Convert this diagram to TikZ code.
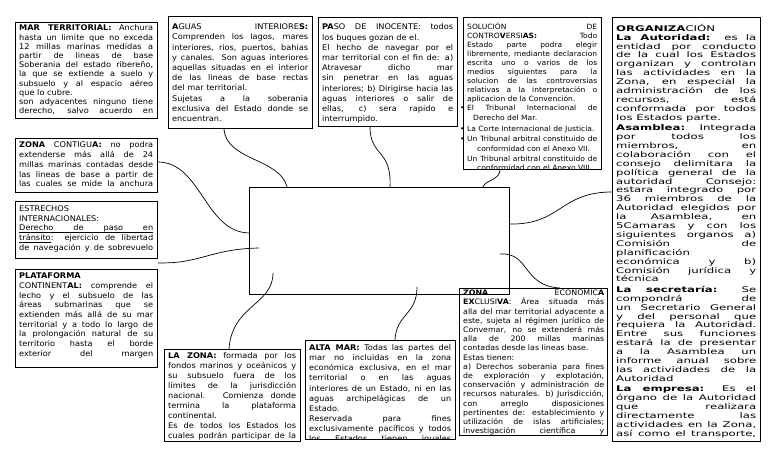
\documentclass[tikz,border=0pt]{standalone}
\usepackage{fontspec}
\setmainfont{DejaVu Sans}[FakeStretch=1.05]
\newfontfamily\anchafont{DejaVu Sans}[FakeStretch=1.5]
\newcommand\subrayar[1]{\setbox0\hbox{#1}\rlap{\rule[-1.6pt]{\wd0}{0.45pt}}\box0}
\newcommand\espaciosub{\leaders\hrule height -1.15pt depth 1.6pt\hskip\fontdimen2\font plus\fontdimen3\font minus\fontdimen4\font}
\newcommand\vineta{\leavevmode\llap{•\hspace{2.5pt}}}
\tikzset{
  caja/.style={draw, line width=0.9pt, inner sep=0pt, anchor=north west},
  texto/.style={anchor=north west, inner sep=0pt, align=justify},
  enlace/.style={line width=0.7pt},
}
\begin{document}
\begin{tikzpicture}[x=1pt,y=-1pt]
\useasboundingbox (0,0) rectangle (768,466);
\node[caja, line width=0.7pt, minimum width=260, minimum height=107] (centro) at (249,187) {};
\node[caja, minimum width=142, minimum height=96] (mar) at (15,22) {};
\node[caja, minimum width=144, minimum height=112] (aguas) at (168,16) {};
\node[caja, minimum width=139, minimum height=109] (paso) at (318,17) {};
\node[caja, minimum width=138, minimum height=152] (sol) at (463,17) {};
\node[caja, minimum width=148, minimum height=424] (org) at (612,17) {};
\node[caja, minimum width=142, minimum height=54] (zc) at (15,138) {};
\node[caja, minimum width=142, minimum height=57] (est) at (15,201) {};
\node[caja, minimum width=142, minimum height=98] (plat) at (15,269) {};
\node[caja, minimum width=136, minimum height=92] (lazona) at (164,349) {};
\node[caja, minimum width=150, minimum height=99] (alta) at (305,340) {};
\node[caja, minimum width=148, minimum height=147] (zee) at (459,288) {};

\begin{scope}
\clip (mar.north west) rectangle (mar.south east);
\node[texto, text width=134pt, font=\fontsize{7.8}{9.2}\selectfont] (martxt) at (19,24.8) {\textbf{MAR TERRITORIAL:} Anchura\linebreak
hasta un limite que no exceda\linebreak
12 millas marinas medidas a\linebreak
partir de lineas de base\linebreak
Soberania del estado ribereño,\linebreak
la que se extiende a suelo y\linebreak
subsuelo y al espacio aéreo\linebreak
que lo cubre.\par
son adyacentes ninguno tiene\linebreak
derecho, salvo acuerdo en\linebreak\mbox{}};
\end{scope}

\begin{scope}
\clip (aguas.north west) rectangle (aguas.south east);
\node[texto, text width=136pt, font=\fontsize{7.8}{10.2}\selectfont] (aguastxt) at (172,23.8) {\textbf{A}GUAS INTERIORE\textbf{S:}\linebreak
Comprenden los lagos, mares\linebreak
interiores, rios, puertos, bahias\linebreak
y canales. Son aguas interiores\linebreak
aquellas situadas en el interior\linebreak
de las lineas de base rectas\linebreak
del mar territorial.\par
Sujetas a la soberania\linebreak
exclusiva del Estado donde se\linebreak
encuentran.};
\end{scope}

\begin{scope}
\clip (paso.north west) rectangle (paso.south east);
\node[texto, text width=131pt, font=\fontsize{7.8}{10.2}\selectfont] (pasotxt) at (322,23.8) {\textbf{PA}SO DE INOCENTE: todos\linebreak
los buques gozan de el.\par
El hecho de navegar por el\linebreak
mar territorial con el fin de: a)\linebreak
Atravesar dicho mar\linebreak
sin penetrar en las aguas\linebreak
interiores; b) Dirigirse hacia las\linebreak
aguas interiores o salir de\linebreak
ellas, c) sera rapido e\linebreak
interrumpido.};
\end{scope}

\begin{scope}
\clip ([xshift=-5pt]sol.north west) rectangle (sol.south east);
\node[texto, text width=130pt, font=\fontsize{7.2}{9}\selectfont] (soltxt) at (467,22.2) {SOLUCIÓN DE\linebreak
CONTRO\textbf{V}ERSI\textbf{AS:} Todo\linebreak
Estado parte podra elegir\linebreak
libremente, mediante declaracion\linebreak
escrita uno o varios de los\linebreak
medios siguientes para la\linebreak
solucion de las controversias\linebreak
relativas a la interpretación o\linebreak
aplicacion de la Convención.\par
\fontsize{7.2}{9.8}\selectfont
\vineta El Tribunal Internacional de\linebreak
\hspace*{6pt}Derecho del Mar.\par\vspace{0.6pt}
\vineta La Corte Internacional de Justicia.\par\vspace{0.6pt}
\vineta Un Tribunal arbitral constituido de\linebreak
\hspace*{10pt}conformidad con el Anexo VII.\par\vspace{0.8pt}
Un Tribunal arbitral constituido de\linebreak
\hspace*{10pt}conformidad con el Anexo VIII};
\end{scope}

\begin{scope}
\clip (org.north west) rectangle (org.south east);
\node[texto, text width=140pt, font=\anchafont\fontsize{7.8}{8.9}\selectfont] (orgtxt) at (616,23.8) {\textbf{ORGANIZA}CIÓN\newline
\textbf{La Autoridad:} es la\linebreak
entidad por conducto\linebreak
de la cual los Estados\linebreak
organizan y controlan\linebreak
las actividades en la\linebreak
Zona, en especial la\linebreak
administración de los\linebreak
recursos, está\linebreak
conformada por todos\linebreak
los Estados parte.\par\vspace{1.5pt}
\textbf{Asamblea:} Integrada\linebreak
por todos los\linebreak
miembros, en\linebreak
colaboración con el\linebreak
consejo delimitara la\linebreak
política general de la\linebreak
autoridad Consejo:\linebreak
estara integrado por\linebreak
36 miembros de la\linebreak
Autoridad elegidos por\linebreak
la Asamblea, en\linebreak
5Camaras y con los\linebreak
siguientes organos a)\linebreak
Comisión de\linebreak
planificación\newline
económica y b)\linebreak
Comisión jurídica y\linebreak
técnica\par\vspace{1.5pt}
\textbf{La secretaría:} Se\linebreak
compondrá de\linebreak
un Secretario General\linebreak
y del personal que\linebreak
requiera la Autoridad.\linebreak
Entre sus funciones\linebreak
estará la de presentar\linebreak
a la Asamblea un\linebreak
informe anual sobre\linebreak
las actividades de la\linebreak
Autoridad\par\vspace{1.5pt}
\textbf{La empresa:} Es el\linebreak
órgano de la Autoridad\linebreak
que realizara\linebreak
directamente las\linebreak
actividades en la Zona,\linebreak
así como el transporte,\linebreak\mbox{}};
\end{scope}

\begin{scope}
\clip (zc.north west) rectangle (zc.south east);
\node[texto, text width=134pt, font=\fontsize{7.8}{9.7}\selectfont] (zctxt) at (19,141.8) {\textbf{ZONA} CONTIGU\textbf{A:} no podra\linebreak
extenderse más allá de 24\linebreak
millas marinas contadas desde\linebreak
las lineas de base a partir de\linebreak
las cuales se mide la anchura\linebreak\mbox{}};
\end{scope}

\begin{scope}
\clip (est.north west) rectangle (est.south east);
\node[texto, text width=134pt, font=\fontsize{7.8}{9.6}\selectfont] (esttxt) at (19,205.8) {ESTRECHOS\newline
INTERNACIONALES:\newline
\subrayar{Derecho}\espaciosub\subrayar{de}\espaciosub\subrayar{paso}\espaciosub\subrayar{en}\linebreak
\subrayar{tránsito}: ejercicio de libertad\linebreak
de navegación y de sobrevuelo\linebreak\mbox{}};
\end{scope}

\begin{scope}
\clip (plat.north west) rectangle (plat.south east);
\node[texto, text width=134pt, font=\fontsize{7.8}{9.7}\selectfont] (plattxt) at (19,272.8) {\textbf{PLATAFORMA}\newline
CONTINENT\textbf{AL:} comprende el\linebreak
lecho y el subsuelo de las\linebreak
áreas submarinas que se\linebreak
extienden más allá de su mar\linebreak
territorial y a todo lo largo de\linebreak
la prolongación natural de su\linebreak
territorio hasta el borde\linebreak
exterior del margen\linebreak\mbox{}};
\end{scope}

\begin{scope}
\clip (lazona.north west) rectangle (lazona.south east);
\node[texto, text width=128pt, font=\fontsize{7.8}{10}\selectfont] (lazonatxt) at (168,352) {\textbf{LA ZONA:} formada por los\linebreak
fondos marinos y oceánicos y\linebreak
su subsuelo fuera de los\linebreak
límites de la jurisdicción\linebreak
nacional. Comienza donde\linebreak
termina la plataforma\linebreak
continental.\par
Es de todos los Estados los\linebreak
cuales podrán participar de la\linebreak\mbox{}};
\end{scope}

\begin{scope}
\clip (alta.north west) rectangle (alta.south east);
\node[texto, text width=142pt, font=\fontsize{7.8}{10.1}\selectfont] (altatxt) at (309,344.5) {\textbf{ALTA MAR:} Todas las partes del\linebreak
mar no incluidas en la zona\linebreak
económica exclusiva, en el mar\linebreak
territorial o en las aguas\linebreak
interiores de un Estado, ni en las\linebreak
aguas archipelágicas de un\linebreak
Estado.\par
Reservada para fines\linebreak
exclusivamente pacíficos y todos\linebreak
los Estados tienen iguales\linebreak\mbox{}};
\end{scope}

\begin{scope}
\clip (zee.north west) rectangle (zee.south east);
\node[texto, text width=141pt, font=\fontsize{7.5}{9.2}\selectfont] (zeetxt) at (463,290) {\textbf{ZONA} ECONOMIC\textbf{A}\linebreak
\textbf{EX}CLUSI\textbf{VA}: Área situada más\linebreak
alla del mar territorial adyacente a\linebreak
este, sujeta al régimen jurídico de\linebreak
Convemar, no se extenderá más\linebreak
alla de 200 millas marinas\linebreak
contadas desde las lineas base.\par
Estas tienen:\par
a) Derechos soberania para fines\linebreak
de exploración y explotación,\linebreak
conservación y administración de\linebreak
recursos naturales. b) Jurisdicción,\linebreak
con arreglo disposiciones\linebreak
pertinentes de: establecimiento y\linebreak
utilización de islas artificiales;\linebreak
investigación científica y\linebreak\mbox{}};
\end{scope}

\draw[enlace] ([xshift=56pt]aguas.south west) .. controls +(2,32) and +(-7,-29) .. ([xshift=38pt]centro.north west);
\draw[enlace] ([xshift=52pt]paso.south west) .. controls +(0,30) and +(2,-38) .. ([xshift=141pt]centro.north west);
\draw[enlace] ([xshift=37pt]sol.south west) .. controls +(0,10) and +(2,-7) .. ([xshift=234pt]centro.north west);
\draw[enlace] ([yshift=-175pt]org.north west) .. controls +(-52,0) and +(51,1) .. ([yshift=-37pt]centro.north east);
\draw[enlace] ([shift={(251pt,-67pt)}]centro.north west) .. controls +(30,-2) and +(-38,-2) .. ([xshift=101pt]zee.north west);
\draw[enlace] ([yshift=-24pt]zc.north east) .. controls +(43,0) and +(-44,-1) .. ([yshift=-46pt]centro.north west);
\draw[enlace] ([yshift=-4pt]est.south east) .. controls +(43,1) and +(-49,1) .. ([shift={(10pt,-61pt)}]centro.north west);
\draw[enlace] ([shift={(24pt,-86pt)}]centro.north west) .. controls +(0,32) and +(3,-44) .. ([xshift=65pt]lazona.north west);
\draw[enlace] ([shift={(168pt,-100pt)}]centro.north west) .. controls +(0,28) and +(1,-26) .. ([xshift=90pt]alta.north west);
\end{tikzpicture}
\end{document}
